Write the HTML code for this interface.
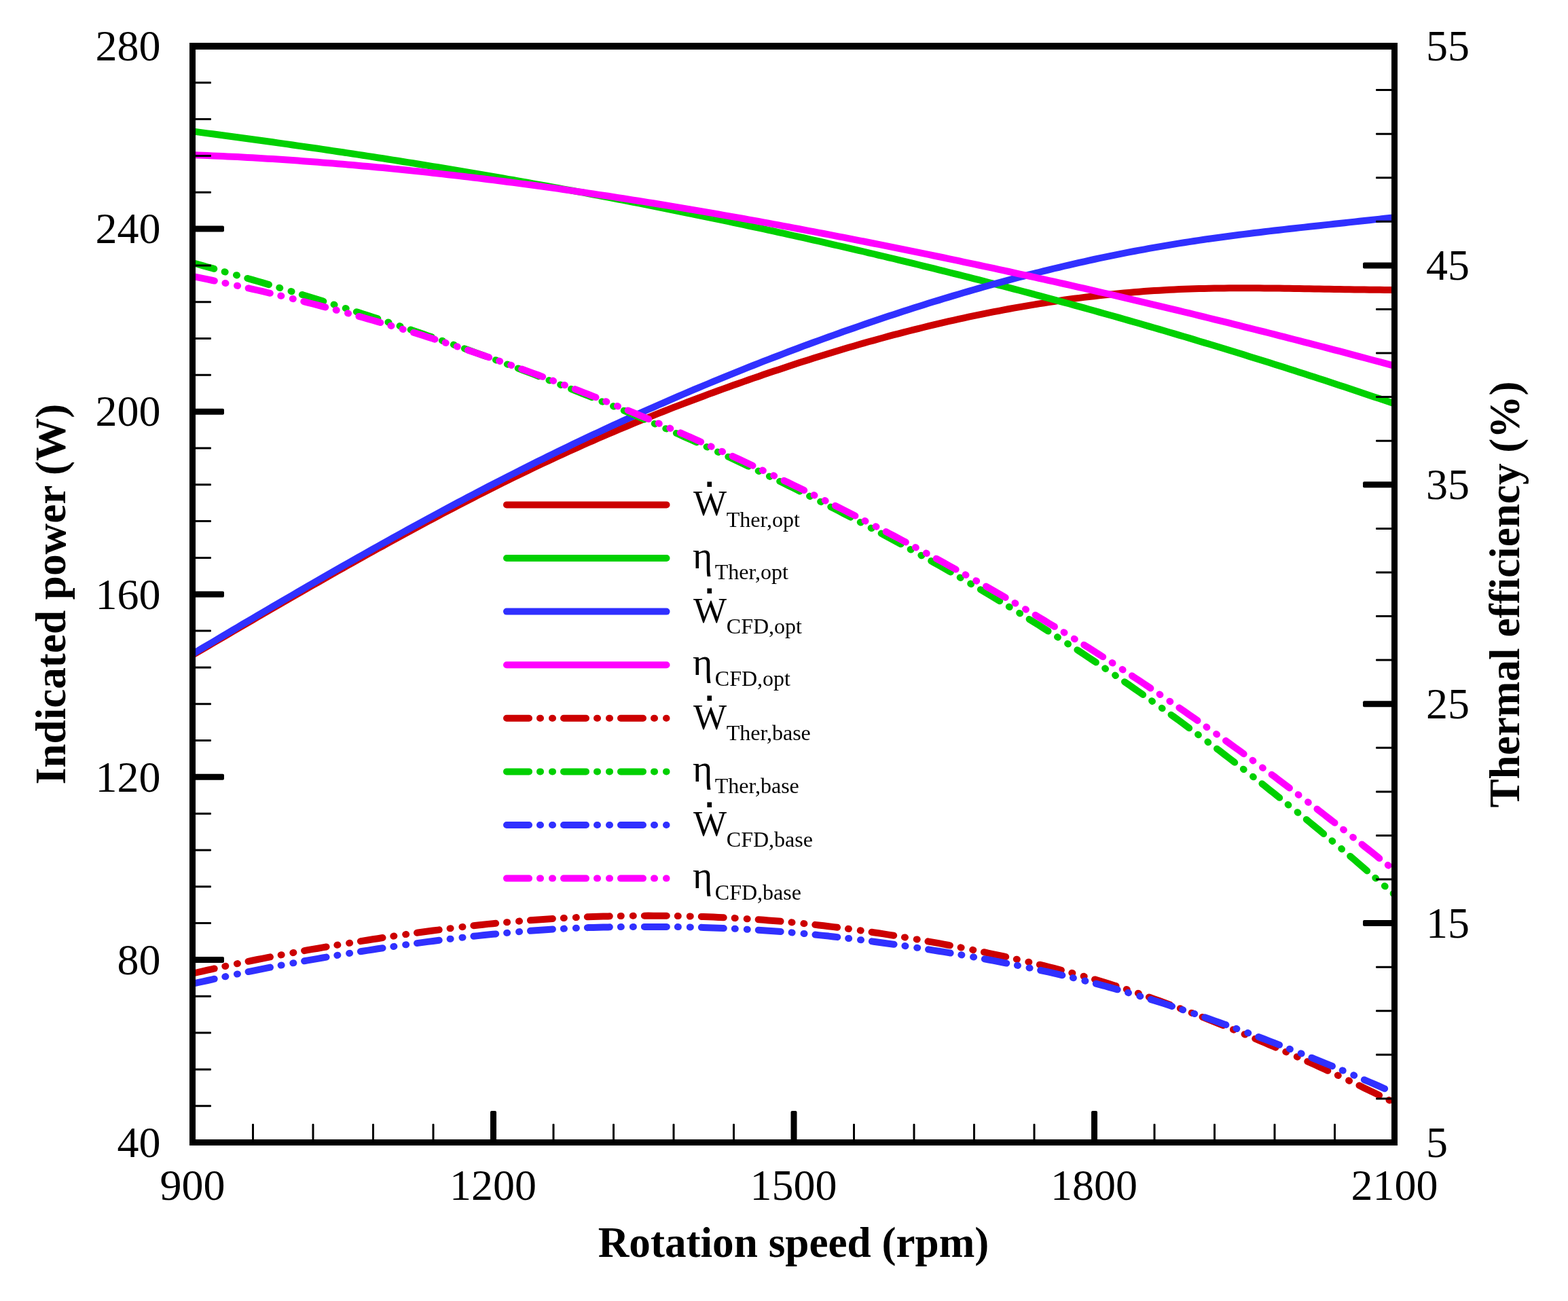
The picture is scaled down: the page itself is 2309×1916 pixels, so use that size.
<!DOCTYPE html>
<html lang="en"><head><meta charset="utf-8"><title>Indicated power and thermal efficiency vs rotation speed</title>
<style>html,body{margin:0;padding:0;background:#fff;}body{width:2309px;height:1916px;overflow:hidden;}svg{display:block;}text{font-family:"Liberation Serif","Times New Roman",serif;fill:#000;}.tk{font-size:64px;}.ti{font-size:63.2px;font-weight:bold;}.lg{font-size:52px;}.sb{font-size:32px;}.et{font-size:56px;}.dot{font-family:"Liberation Sans",Arial,sans-serif;font-size:70px;}.c{fill:none;stroke-width:10;stroke-linecap:round;stroke-linejoin:round;}.d{stroke-dasharray:33 16 1 17 1 16;}</style></head><body>
<svg xmlns="http://www.w3.org/2000/svg" width="2309" height="1916" viewBox="0 0 2309 1916">
<rect width="2309" height="1916" fill="#fff"/>
<defs><clipPath id="cp"><rect x="283.5" y="68" width="1770" height="1614.5"/></clipPath></defs>
<g clip-path="url(#cp)">
<path class="c" stroke="#CC0000" d="M283.5,964.8 L290.9,960.5 L298.2,956.2 L305.6,951.9 L313.0,947.5 L320.4,943.2 L327.8,938.9 L335.1,934.6 L342.5,930.3 L349.9,926.0 L357.2,921.7 L364.6,917.4 L372.0,913.1 L379.4,908.8 L386.8,904.5 L394.1,900.2 L401.5,896.0 L408.9,891.7 L416.2,887.4 L423.6,883.2 L431.0,878.9 L438.4,874.7 L445.8,870.4 L453.1,866.2 L460.5,862.0 L467.9,857.8 L475.2,853.6 L482.6,849.4 L490.0,845.2 L497.4,841.0 L504.8,836.9 L512.1,832.7 L519.5,828.6 L526.9,824.4 L534.2,820.3 L541.6,816.2 L549.0,812.1 L556.4,808.0 L563.8,804.0 L571.1,799.9 L578.5,795.8 L585.9,791.8 L593.2,787.8 L600.6,783.8 L608.0,779.8 L615.4,775.8 L622.8,771.9 L630.1,767.9 L637.5,764.0 L644.9,760.1 L652.2,756.2 L659.6,752.3 L667.0,748.5 L674.4,744.6 L681.8,740.8 L689.1,737.0 L696.5,733.2 L703.9,729.4 L711.2,725.7 L718.6,722.0 L726.0,718.3 L733.4,714.6 L740.8,710.9 L748.1,707.3 L755.5,703.6 L762.9,700.0 L770.2,696.4 L777.6,692.9 L785.0,689.3 L792.4,685.8 L799.8,682.3 L807.1,678.9 L814.5,675.4 L821.9,672.0 L829.2,668.6 L836.6,665.2 L844.0,661.9 L851.4,658.6 L858.8,655.3 L866.1,652.0 L873.5,648.8 L880.9,645.5 L888.2,642.4 L895.6,639.2 L903.0,636.1 L910.4,632.9 L917.8,629.9 L925.1,626.8 L932.5,623.7 L939.9,620.7 L947.2,617.7 L954.6,614.8 L962.0,611.8 L969.4,608.9 L976.8,606.0 L984.1,603.1 L991.5,600.2 L998.9,597.4 L1006.2,594.6 L1013.6,591.8 L1021.0,589.0 L1028.4,586.2 L1035.8,583.5 L1043.1,580.7 L1050.5,578.0 L1057.9,575.3 L1065.2,572.6 L1072.6,570.0 L1080.0,567.3 L1087.4,564.7 L1094.8,562.1 L1102.1,559.5 L1109.5,556.9 L1116.9,554.4 L1124.2,551.8 L1131.6,549.3 L1139.0,546.8 L1146.4,544.4 L1153.8,541.9 L1161.1,539.5 L1168.5,537.0 L1175.9,534.6 L1183.2,532.3 L1190.6,529.9 L1198.0,527.6 L1205.4,525.3 L1212.8,523.0 L1220.1,520.7 L1227.5,518.4 L1234.9,516.2 L1242.2,514.0 L1249.6,511.8 L1257.0,509.7 L1264.4,507.5 L1271.8,505.4 L1279.1,503.3 L1286.5,501.3 L1293.9,499.2 L1301.2,497.2 L1308.6,495.2 L1316.0,493.2 L1323.4,491.3 L1330.8,489.4 L1338.1,487.5 L1345.5,485.6 L1352.9,483.8 L1360.2,482.0 L1367.6,480.2 L1375.0,478.4 L1382.4,476.6 L1389.8,474.9 L1397.1,473.2 L1404.5,471.6 L1411.9,469.9 L1419.2,468.3 L1426.6,466.7 L1434.0,465.2 L1441.4,463.6 L1448.8,462.1 L1456.1,460.7 L1463.5,459.2 L1470.9,457.8 L1478.2,456.4 L1485.6,455.0 L1493.0,453.7 L1500.4,452.4 L1507.8,451.1 L1515.1,449.8 L1522.5,448.6 L1529.9,447.4 L1537.2,446.2 L1544.6,445.1 L1552.0,444.0 L1559.4,442.9 L1566.8,441.8 L1574.1,440.8 L1581.5,439.8 L1588.9,438.9 L1596.2,437.9 L1603.6,437.0 L1611.0,436.2 L1618.4,435.3 L1625.8,434.5 L1633.1,433.7 L1640.5,433.0 L1647.9,432.3 L1655.2,431.6 L1662.6,430.9 L1670.0,430.3 L1677.4,429.7 L1684.8,429.1 L1692.1,428.6 L1699.5,428.1 L1706.9,427.7 L1714.2,427.2 L1721.6,426.8 L1729.0,426.5 L1736.4,426.1 L1743.8,425.8 L1751.1,425.6 L1758.5,425.3 L1765.9,425.1 L1773.2,424.9 L1780.6,424.7 L1788.0,424.6 L1795.4,424.5 L1802.8,424.4 L1810.1,424.3 L1817.5,424.3 L1824.9,424.3 L1832.2,424.3 L1839.6,424.3 L1847.0,424.3 L1854.4,424.3 L1861.8,424.4 L1869.1,424.4 L1876.5,424.5 L1883.9,424.6 L1891.2,424.7 L1898.6,424.8 L1906.0,424.9 L1913.4,425.0 L1920.8,425.2 L1928.1,425.3 L1935.5,425.4 L1942.9,425.6 L1950.2,425.7 L1957.6,425.8 L1965.0,426.0 L1972.4,426.1 L1979.8,426.2 L1987.1,426.3 L1994.5,426.4 L2001.9,426.5 L2009.2,426.6 L2016.6,426.7 L2024.0,426.7 L2031.4,426.8 L2038.8,426.9 L2046.1,426.9 L2053.5,427.0"/>
<path class="c" stroke="#00D000" d="M283.5,193.4 L290.9,194.4 L298.2,195.4 L305.6,196.4 L313.0,197.3 L320.4,198.3 L327.8,199.3 L335.1,200.3 L342.5,201.2 L349.9,202.2 L357.2,203.2 L364.6,204.2 L372.0,205.2 L379.4,206.2 L386.8,207.3 L394.1,208.3 L401.5,209.3 L408.9,210.4 L416.2,211.4 L423.6,212.4 L431.0,213.5 L438.4,214.6 L445.8,215.6 L453.1,216.7 L460.5,217.8 L467.9,218.8 L475.2,219.9 L482.6,221.0 L490.0,222.1 L497.4,223.2 L504.8,224.3 L512.1,225.4 L519.5,226.5 L526.9,227.6 L534.2,228.8 L541.6,229.9 L549.0,231.0 L556.4,232.2 L563.8,233.3 L571.1,234.5 L578.5,235.6 L585.9,236.8 L593.2,238.0 L600.6,239.1 L608.0,240.3 L615.4,241.5 L622.8,242.7 L630.1,243.9 L637.5,245.1 L644.9,246.3 L652.2,247.5 L659.6,248.7 L667.0,249.9 L674.4,251.2 L681.8,252.4 L689.1,253.6 L696.5,254.9 L703.9,256.1 L711.2,257.4 L718.6,258.6 L726.0,259.9 L733.4,261.2 L740.8,262.5 L748.1,263.8 L755.5,265.0 L762.9,266.3 L770.2,267.6 L777.6,269.0 L785.0,270.3 L792.4,271.6 L799.8,272.9 L807.1,274.2 L814.5,275.6 L821.9,276.9 L829.2,278.3 L836.6,279.6 L844.0,281.0 L851.4,282.4 L858.8,283.7 L866.1,285.1 L873.5,286.5 L880.9,287.9 L888.2,289.3 L895.6,290.7 L903.0,292.1 L910.4,293.5 L917.8,294.9 L925.1,296.4 L932.5,297.8 L939.9,299.2 L947.2,300.7 L954.6,302.1 L962.0,303.6 L969.4,305.0 L976.8,306.5 L984.1,308.0 L991.5,309.5 L998.9,311.0 L1006.2,312.5 L1013.6,314.0 L1021.0,315.5 L1028.4,317.0 L1035.8,318.5 L1043.1,320.0 L1050.5,321.6 L1057.9,323.1 L1065.2,324.6 L1072.6,326.2 L1080.0,327.8 L1087.4,329.3 L1094.8,330.9 L1102.1,332.5 L1109.5,334.1 L1116.9,335.6 L1124.2,337.2 L1131.6,338.8 L1139.0,340.4 L1146.4,342.1 L1153.8,343.7 L1161.1,345.3 L1168.5,347.0 L1175.9,348.6 L1183.2,350.2 L1190.6,351.9 L1198.0,353.6 L1205.4,355.2 L1212.8,356.9 L1220.1,358.6 L1227.5,360.3 L1234.9,362.0 L1242.2,363.7 L1249.6,365.4 L1257.0,367.1 L1264.4,368.8 L1271.8,370.5 L1279.1,372.3 L1286.5,374.0 L1293.9,375.8 L1301.2,377.5 L1308.6,379.3 L1316.0,381.0 L1323.4,382.8 L1330.8,384.6 L1338.1,386.4 L1345.5,388.2 L1352.9,390.0 L1360.2,391.8 L1367.6,393.6 L1375.0,395.4 L1382.4,397.3 L1389.8,399.1 L1397.1,401.0 L1404.5,402.8 L1411.9,404.7 L1419.2,406.5 L1426.6,408.4 L1434.0,410.3 L1441.4,412.2 L1448.8,414.1 L1456.1,416.0 L1463.5,417.9 L1470.9,419.8 L1478.2,421.7 L1485.6,423.6 L1493.0,425.6 L1500.4,427.5 L1507.8,429.5 L1515.1,431.4 L1522.5,433.4 L1529.9,435.4 L1537.2,437.3 L1544.6,439.3 L1552.0,441.3 L1559.4,443.3 L1566.8,445.3 L1574.1,447.3 L1581.5,449.4 L1588.9,451.4 L1596.2,453.4 L1603.6,455.5 L1611.0,457.5 L1618.4,459.6 L1625.8,461.7 L1633.1,463.7 L1640.5,465.8 L1647.9,467.9 L1655.2,470.0 L1662.6,472.1 L1670.0,474.2 L1677.4,476.3 L1684.8,478.5 L1692.1,480.6 L1699.5,482.7 L1706.9,484.9 L1714.2,487.0 L1721.6,489.2 L1729.0,491.4 L1736.4,493.6 L1743.8,495.7 L1751.1,497.9 L1758.5,500.1 L1765.9,502.4 L1773.2,504.6 L1780.6,506.8 L1788.0,509.0 L1795.4,511.3 L1802.8,513.5 L1810.1,515.8 L1817.5,518.0 L1824.9,520.3 L1832.2,522.6 L1839.6,524.9 L1847.0,527.2 L1854.4,529.5 L1861.8,531.8 L1869.1,534.1 L1876.5,536.4 L1883.9,538.8 L1891.2,541.1 L1898.6,543.4 L1906.0,545.8 L1913.4,548.2 L1920.8,550.5 L1928.1,552.9 L1935.5,555.3 L1942.9,557.7 L1950.2,560.1 L1957.6,562.5 L1965.0,564.9 L1972.4,567.4 L1979.8,569.8 L1987.1,572.3 L1994.5,574.7 L2001.9,577.2 L2009.2,579.7 L2016.6,582.2 L2024.0,584.7 L2031.4,587.1 L2038.8,589.6 L2046.1,592.1 L2053.5,594.6"/>
<path class="c" stroke="#3030FF" d="M283.5,963.2 L290.9,958.8 L298.2,954.4 L305.6,950.0 L313.0,945.7 L320.4,941.3 L327.8,936.9 L335.1,932.5 L342.5,928.1 L349.9,923.8 L357.2,919.4 L364.6,915.1 L372.0,910.7 L379.4,906.4 L386.8,902.0 L394.1,897.7 L401.5,893.4 L408.9,889.1 L416.2,884.8 L423.6,880.5 L431.0,876.2 L438.4,871.9 L445.8,867.6 L453.1,863.3 L460.5,859.1 L467.9,854.8 L475.2,850.6 L482.6,846.3 L490.0,842.1 L497.4,837.9 L504.8,833.7 L512.1,829.5 L519.5,825.3 L526.9,821.1 L534.2,817.0 L541.6,812.8 L549.0,808.7 L556.4,804.5 L563.8,800.4 L571.1,796.3 L578.5,792.2 L585.9,788.1 L593.2,784.0 L600.6,780.0 L608.0,775.9 L615.4,771.9 L622.8,767.8 L630.1,763.8 L637.5,759.8 L644.9,755.8 L652.2,751.9 L659.6,747.9 L667.0,744.0 L674.4,740.0 L681.8,736.1 L689.1,732.2 L696.5,728.3 L703.9,724.5 L711.2,720.6 L718.6,716.8 L726.0,713.0 L733.4,709.2 L740.8,705.4 L748.1,701.6 L755.5,697.9 L762.9,694.1 L770.2,690.4 L777.6,686.7 L785.0,683.0 L792.4,679.3 L799.8,675.7 L807.1,672.1 L814.5,668.4 L821.9,664.8 L829.2,661.3 L836.6,657.7 L844.0,654.1 L851.4,650.6 L858.8,647.1 L866.1,643.6 L873.5,640.1 L880.9,636.7 L888.2,633.2 L895.6,629.8 L903.0,626.4 L910.4,623.0 L917.8,619.6 L925.1,616.3 L932.5,612.9 L939.9,609.6 L947.2,606.3 L954.6,603.0 L962.0,599.8 L969.4,596.5 L976.8,593.3 L984.1,590.1 L991.5,586.9 L998.9,583.7 L1006.2,580.5 L1013.6,577.4 L1021.0,574.2 L1028.4,571.1 L1035.8,568.0 L1043.1,565.0 L1050.5,561.9 L1057.9,558.9 L1065.2,555.8 L1072.6,552.8 L1080.0,549.8 L1087.4,546.8 L1094.8,543.9 L1102.1,540.9 L1109.5,538.0 L1116.9,535.1 L1124.2,532.2 L1131.6,529.4 L1139.0,526.5 L1146.4,523.7 L1153.8,520.8 L1161.1,518.0 L1168.5,515.3 L1175.9,512.5 L1183.2,509.7 L1190.6,507.0 L1198.0,504.3 L1205.4,501.6 L1212.8,498.9 L1220.1,496.2 L1227.5,493.6 L1234.9,491.0 L1242.2,488.3 L1249.6,485.8 L1257.0,483.2 L1264.4,480.6 L1271.8,478.1 L1279.1,475.5 L1286.5,473.0 L1293.9,470.5 L1301.2,468.1 L1308.6,465.6 L1316.0,463.2 L1323.4,460.7 L1330.8,458.3 L1338.1,456.0 L1345.5,453.6 L1352.9,451.3 L1360.2,448.9 L1367.6,446.6 L1375.0,444.3 L1382.4,442.1 L1389.8,439.8 L1397.1,437.6 L1404.5,435.4 L1411.9,433.2 L1419.2,431.0 L1426.6,428.9 L1434.0,426.7 L1441.4,424.6 L1448.8,422.5 L1456.1,420.5 L1463.5,418.4 L1470.9,416.4 L1478.2,414.4 L1485.6,412.4 L1493.0,410.4 L1500.4,408.5 L1507.8,406.6 L1515.1,404.7 L1522.5,402.8 L1529.9,401.0 L1537.2,399.1 L1544.6,397.3 L1552.0,395.5 L1559.4,393.8 L1566.8,392.0 L1574.1,390.3 L1581.5,388.6 L1588.9,386.9 L1596.2,385.3 L1603.6,383.6 L1611.0,382.0 L1618.4,380.4 L1625.8,378.9 L1633.1,377.3 L1640.5,375.8 L1647.9,374.3 L1655.2,372.9 L1662.6,371.4 L1670.0,370.0 L1677.4,368.6 L1684.8,367.3 L1692.1,365.9 L1699.5,364.6 L1706.9,363.3 L1714.2,362.1 L1721.6,360.8 L1729.0,359.6 L1736.4,358.4 L1743.8,357.2 L1751.1,356.1 L1758.5,355.0 L1765.9,353.9 L1773.2,352.8 L1780.6,351.7 L1788.0,350.7 L1795.4,349.7 L1802.8,348.7 L1810.1,347.7 L1817.5,346.8 L1824.9,345.8 L1832.2,344.9 L1839.6,344.0 L1847.0,343.0 L1854.4,342.2 L1861.8,341.3 L1869.1,340.4 L1876.5,339.5 L1883.9,338.7 L1891.2,337.9 L1898.6,337.0 L1906.0,336.2 L1913.4,335.4 L1920.8,334.6 L1928.1,333.8 L1935.5,333.0 L1942.9,332.2 L1950.2,331.4 L1957.6,330.6 L1965.0,329.8 L1972.4,329.0 L1979.8,328.2 L1987.1,327.4 L1994.5,326.6 L2001.9,325.8 L2009.2,325.0 L2016.6,324.2 L2024.0,323.4 L2031.4,322.6 L2038.8,321.8 L2046.1,321.0 L2053.5,320.2"/>
<path class="c" stroke="#FF00FF" d="M283.5,228.1 L290.9,228.4 L298.2,228.7 L305.6,229.0 L313.0,229.4 L320.4,229.7 L327.8,230.0 L335.1,230.4 L342.5,230.8 L349.9,231.1 L357.2,231.5 L364.6,231.9 L372.0,232.3 L379.4,232.8 L386.8,233.2 L394.1,233.7 L401.5,234.1 L408.9,234.6 L416.2,235.1 L423.6,235.6 L431.0,236.1 L438.4,236.6 L445.8,237.2 L453.1,237.7 L460.5,238.3 L467.9,238.8 L475.2,239.4 L482.6,240.0 L490.0,240.6 L497.4,241.2 L504.8,241.8 L512.1,242.4 L519.5,243.1 L526.9,243.7 L534.2,244.4 L541.6,245.1 L549.0,245.7 L556.4,246.4 L563.8,247.1 L571.1,247.8 L578.5,248.6 L585.9,249.3 L593.2,250.0 L600.6,250.8 L608.0,251.6 L615.4,252.3 L622.8,253.1 L630.1,253.9 L637.5,254.7 L644.9,255.5 L652.2,256.4 L659.6,257.2 L667.0,258.0 L674.4,258.9 L681.8,259.8 L689.1,260.6 L696.5,261.5 L703.9,262.4 L711.2,263.3 L718.6,264.2 L726.0,265.1 L733.4,266.1 L740.8,267.0 L748.1,268.0 L755.5,268.9 L762.9,269.9 L770.2,270.9 L777.6,271.8 L785.0,272.8 L792.4,273.8 L799.8,274.9 L807.1,275.9 L814.5,276.9 L821.9,277.9 L829.2,279.0 L836.6,280.1 L844.0,281.1 L851.4,282.2 L858.8,283.3 L866.1,284.4 L873.5,285.5 L880.9,286.6 L888.2,287.7 L895.6,288.8 L903.0,289.9 L910.4,291.1 L917.8,292.2 L925.1,293.4 L932.5,294.6 L939.9,295.7 L947.2,296.9 L954.6,298.1 L962.0,299.3 L969.4,300.5 L976.8,301.7 L984.1,302.9 L991.5,304.1 L998.9,305.4 L1006.2,306.6 L1013.6,307.9 L1021.0,309.1 L1028.4,310.4 L1035.8,311.6 L1043.1,312.9 L1050.5,314.2 L1057.9,315.5 L1065.2,316.8 L1072.6,318.1 L1080.0,319.4 L1087.4,320.7 L1094.8,322.0 L1102.1,323.4 L1109.5,324.7 L1116.9,326.0 L1124.2,327.4 L1131.6,328.7 L1139.0,330.1 L1146.4,331.4 L1153.8,332.8 L1161.1,334.2 L1168.5,335.6 L1175.9,337.0 L1183.2,338.4 L1190.6,339.8 L1198.0,341.2 L1205.4,342.6 L1212.8,344.0 L1220.1,345.4 L1227.5,346.8 L1234.9,348.3 L1242.2,349.7 L1249.6,351.2 L1257.0,352.6 L1264.4,354.1 L1271.8,355.5 L1279.1,357.0 L1286.5,358.5 L1293.9,359.9 L1301.2,361.4 L1308.6,362.9 L1316.0,364.4 L1323.4,365.9 L1330.8,367.4 L1338.1,368.9 L1345.5,370.4 L1352.9,371.9 L1360.2,373.4 L1367.6,374.9 L1375.0,376.5 L1382.4,378.0 L1389.8,379.5 L1397.1,381.1 L1404.5,382.6 L1411.9,384.2 L1419.2,385.8 L1426.6,387.3 L1434.0,388.9 L1441.4,390.5 L1448.8,392.1 L1456.1,393.6 L1463.5,395.2 L1470.9,396.8 L1478.2,398.4 L1485.6,400.0 L1493.0,401.6 L1500.4,403.3 L1507.8,404.9 L1515.1,406.5 L1522.5,408.1 L1529.9,409.8 L1537.2,411.4 L1544.6,413.1 L1552.0,414.7 L1559.4,416.4 L1566.8,418.0 L1574.1,419.7 L1581.5,421.4 L1588.9,423.1 L1596.2,424.7 L1603.6,426.4 L1611.0,428.1 L1618.4,429.8 L1625.8,431.5 L1633.1,433.2 L1640.5,434.9 L1647.9,436.7 L1655.2,438.4 L1662.6,440.1 L1670.0,441.8 L1677.4,443.6 L1684.8,445.3 L1692.1,447.1 L1699.5,448.8 L1706.9,450.6 L1714.2,452.4 L1721.6,454.1 L1729.0,455.9 L1736.4,457.7 L1743.8,459.5 L1751.1,461.2 L1758.5,463.0 L1765.9,464.8 L1773.2,466.6 L1780.6,468.5 L1788.0,470.3 L1795.4,472.1 L1802.8,473.9 L1810.1,475.7 L1817.5,477.6 L1824.9,479.4 L1832.2,481.3 L1839.6,483.1 L1847.0,485.0 L1854.4,486.8 L1861.8,488.7 L1869.1,490.5 L1876.5,492.4 L1883.9,494.3 L1891.2,496.2 L1898.6,498.1 L1906.0,500.0 L1913.4,501.9 L1920.8,503.8 L1928.1,505.7 L1935.5,507.6 L1942.9,509.5 L1950.2,511.4 L1957.6,513.4 L1965.0,515.3 L1972.4,517.2 L1979.8,519.2 L1987.1,521.1 L1994.5,523.1 L2001.9,525.1 L2009.2,527.0 L2016.6,529.0 L2024.0,531.0 L2031.4,532.9 L2038.8,534.9 L2046.1,536.9 L2053.5,538.9"/>
<path class="c d" stroke="#CC0000" d="M283.5,1433.7 L290.9,1432.0 L298.2,1430.4 L305.6,1428.7 L313.0,1427.1 L320.4,1425.4 L327.8,1423.8 L335.1,1422.2 L342.5,1420.6 L349.9,1419.1 L357.2,1417.5 L364.6,1416.0 L372.0,1414.5 L379.4,1413.0 L386.8,1411.6 L394.1,1410.1 L401.5,1408.7 L408.9,1407.3 L416.2,1405.9 L423.6,1404.6 L431.0,1403.2 L438.4,1401.9 L445.8,1400.6 L453.1,1399.2 L460.5,1397.9 L467.9,1396.7 L475.2,1395.4 L482.6,1394.1 L490.0,1392.9 L497.4,1391.6 L504.8,1390.4 L512.1,1389.2 L519.5,1388.0 L526.9,1386.8 L534.2,1385.6 L541.6,1384.5 L549.0,1383.3 L556.4,1382.2 L563.8,1381.0 L571.1,1379.9 L578.5,1378.8 L585.9,1377.7 L593.2,1376.7 L600.6,1375.6 L608.0,1374.6 L615.4,1373.5 L622.8,1372.5 L630.1,1371.5 L637.5,1370.5 L644.9,1369.6 L652.2,1368.6 L659.6,1367.7 L667.0,1366.8 L674.4,1365.9 L681.8,1365.0 L689.1,1364.1 L696.5,1363.3 L703.9,1362.5 L711.2,1361.7 L718.6,1360.9 L726.0,1360.2 L733.4,1359.5 L740.8,1358.7 L748.1,1358.1 L755.5,1357.4 L762.9,1356.8 L770.2,1356.1 L777.6,1355.6 L785.0,1355.0 L792.4,1354.4 L799.8,1353.9 L807.1,1353.4 L814.5,1352.9 L821.9,1352.5 L829.2,1352.1 L836.6,1351.7 L844.0,1351.3 L851.4,1351.0 L858.8,1350.6 L866.1,1350.3 L873.5,1350.1 L880.9,1349.8 L888.2,1349.6 L895.6,1349.4 L903.0,1349.2 L910.4,1349.1 L917.8,1348.9 L925.1,1348.8 L932.5,1348.7 L939.9,1348.7 L947.2,1348.7 L954.6,1348.6 L962.0,1348.7 L969.4,1348.7 L976.8,1348.7 L984.1,1348.8 L991.5,1348.9 L998.9,1349.1 L1006.2,1349.2 L1013.6,1349.4 L1021.0,1349.6 L1028.4,1349.8 L1035.8,1350.0 L1043.1,1350.3 L1050.5,1350.6 L1057.9,1350.9 L1065.2,1351.3 L1072.6,1351.6 L1080.0,1352.0 L1087.4,1352.4 L1094.8,1352.9 L1102.1,1353.3 L1109.5,1353.8 L1116.9,1354.3 L1124.2,1354.8 L1131.6,1355.4 L1139.0,1356.0 L1146.4,1356.6 L1153.8,1357.2 L1161.1,1357.9 L1168.5,1358.6 L1175.9,1359.3 L1183.2,1360.1 L1190.6,1360.8 L1198.0,1361.6 L1205.4,1362.5 L1212.8,1363.3 L1220.1,1364.2 L1227.5,1365.1 L1234.9,1366.0 L1242.2,1367.0 L1249.6,1367.9 L1257.0,1368.9 L1264.4,1370.0 L1271.8,1371.0 L1279.1,1372.1 L1286.5,1373.2 L1293.9,1374.3 L1301.2,1375.4 L1308.6,1376.6 L1316.0,1377.7 L1323.4,1378.9 L1330.8,1380.2 L1338.1,1381.4 L1345.5,1382.7 L1352.9,1383.9 L1360.2,1385.2 L1367.6,1386.6 L1375.0,1387.9 L1382.4,1389.2 L1389.8,1390.6 L1397.1,1392.0 L1404.5,1393.4 L1411.9,1394.8 L1419.2,1396.3 L1426.6,1397.7 L1434.0,1399.2 L1441.4,1400.7 L1448.8,1402.2 L1456.1,1403.8 L1463.5,1405.3 L1470.9,1406.9 L1478.2,1408.5 L1485.6,1410.1 L1493.0,1411.8 L1500.4,1413.5 L1507.8,1415.1 L1515.1,1416.9 L1522.5,1418.6 L1529.9,1420.4 L1537.2,1422.2 L1544.6,1424.0 L1552.0,1425.9 L1559.4,1427.8 L1566.8,1429.8 L1574.1,1431.7 L1581.5,1433.7 L1588.9,1435.8 L1596.2,1437.8 L1603.6,1440.0 L1611.0,1442.1 L1618.4,1444.3 L1625.8,1446.6 L1633.1,1448.8 L1640.5,1451.2 L1647.9,1453.5 L1655.2,1455.9 L1662.6,1458.3 L1670.0,1460.8 L1677.4,1463.3 L1684.8,1465.9 L1692.1,1468.5 L1699.5,1471.1 L1706.9,1473.7 L1714.2,1476.4 L1721.6,1479.1 L1729.0,1481.9 L1736.4,1484.6 L1743.8,1487.5 L1751.1,1490.3 L1758.5,1493.1 L1765.9,1496.0 L1773.2,1498.9 L1780.6,1501.9 L1788.0,1504.8 L1795.4,1507.8 L1802.8,1510.8 L1810.1,1513.8 L1817.5,1516.9 L1824.9,1519.9 L1832.2,1523.0 L1839.6,1526.1 L1847.0,1529.2 L1854.4,1532.3 L1861.8,1535.4 L1869.1,1538.6 L1876.5,1541.7 L1883.9,1544.9 L1891.2,1548.1 L1898.6,1551.4 L1906.0,1554.6 L1913.4,1557.9 L1920.8,1561.2 L1928.1,1564.5 L1935.5,1567.8 L1942.9,1571.2 L1950.2,1574.5 L1957.6,1577.9 L1965.0,1581.4 L1972.4,1584.8 L1979.8,1588.3 L1987.1,1591.8 L1994.5,1595.3 L2001.9,1598.8 L2009.2,1602.4 L2016.6,1606.0 L2024.0,1609.6 L2031.4,1613.2 L2038.8,1616.8 L2046.1,1620.4 L2053.5,1624.0"/>
<path class="c d" stroke="#00D000" d="M283.5,387.0 L290.9,389.0 L298.2,391.1 L305.6,393.2 L313.0,395.2 L320.4,397.3 L327.8,399.4 L335.1,401.5 L342.5,403.6 L349.9,405.7 L357.2,407.8 L364.6,410.0 L372.0,412.1 L379.4,414.3 L386.8,416.4 L394.1,418.6 L401.5,420.8 L408.9,423.0 L416.2,425.2 L423.6,427.5 L431.0,429.7 L438.4,431.9 L445.8,434.2 L453.1,436.5 L460.5,438.8 L467.9,441.0 L475.2,443.3 L482.6,445.7 L490.0,448.0 L497.4,450.3 L504.8,452.7 L512.1,455.0 L519.5,457.4 L526.9,459.8 L534.2,462.2 L541.6,464.6 L549.0,467.0 L556.4,469.4 L563.8,471.8 L571.1,474.3 L578.5,476.8 L585.9,479.2 L593.2,481.7 L600.6,484.2 L608.0,486.7 L615.4,489.3 L622.8,491.8 L630.1,494.4 L637.5,496.9 L644.9,499.5 L652.2,502.1 L659.6,504.7 L667.0,507.3 L674.4,509.9 L681.8,512.6 L689.1,515.2 L696.5,517.9 L703.9,520.6 L711.2,523.3 L718.6,526.0 L726.0,528.7 L733.4,531.4 L740.8,534.2 L748.1,536.9 L755.5,539.7 L762.9,542.5 L770.2,545.3 L777.6,548.1 L785.0,550.9 L792.4,553.8 L799.8,556.6 L807.1,559.5 L814.5,562.4 L821.9,565.3 L829.2,568.2 L836.6,571.1 L844.0,574.1 L851.4,577.0 L858.8,580.0 L866.1,583.0 L873.5,586.0 L880.9,589.0 L888.2,592.0 L895.6,595.1 L903.0,598.1 L910.4,601.2 L917.8,604.3 L925.1,607.4 L932.5,610.5 L939.9,613.7 L947.2,616.8 L954.6,620.0 L962.0,623.2 L969.4,626.4 L976.8,629.6 L984.1,632.8 L991.5,636.0 L998.9,639.3 L1006.2,642.6 L1013.6,645.9 L1021.0,649.2 L1028.4,652.5 L1035.8,655.9 L1043.1,659.2 L1050.5,662.6 L1057.9,666.0 L1065.2,669.4 L1072.6,672.8 L1080.0,676.2 L1087.4,679.7 L1094.8,683.2 L1102.1,686.7 L1109.5,690.2 L1116.9,693.7 L1124.2,697.2 L1131.6,700.8 L1139.0,704.4 L1146.4,708.0 L1153.8,711.6 L1161.1,715.2 L1168.5,718.8 L1175.9,722.5 L1183.2,726.2 L1190.6,729.9 L1198.0,733.6 L1205.4,737.3 L1212.8,741.1 L1220.1,744.8 L1227.5,748.6 L1234.9,752.4 L1242.2,756.2 L1249.6,760.1 L1257.0,763.9 L1264.4,767.8 L1271.8,771.7 L1279.1,775.6 L1286.5,779.6 L1293.9,783.5 L1301.2,787.5 L1308.6,791.5 L1316.0,795.5 L1323.4,799.5 L1330.8,803.6 L1338.1,807.6 L1345.5,811.7 L1352.9,815.8 L1360.2,820.0 L1367.6,824.1 L1375.0,828.3 L1382.4,832.5 L1389.8,836.7 L1397.1,840.9 L1404.5,845.2 L1411.9,849.4 L1419.2,853.7 L1426.6,858.1 L1434.0,862.4 L1441.4,866.8 L1448.8,871.1 L1456.1,875.5 L1463.5,880.0 L1470.9,884.4 L1478.2,888.9 L1485.6,893.4 L1493.0,897.9 L1500.4,902.4 L1507.8,907.0 L1515.1,911.6 L1522.5,916.2 L1529.9,920.8 L1537.2,925.5 L1544.6,930.2 L1552.0,934.9 L1559.4,939.6 L1566.8,944.4 L1574.1,949.2 L1581.5,954.0 L1588.9,958.8 L1596.2,963.7 L1603.6,968.6 L1611.0,973.5 L1618.4,978.4 L1625.8,983.4 L1633.1,988.4 L1640.5,993.4 L1647.9,998.5 L1655.2,1003.6 L1662.6,1008.7 L1670.0,1013.8 L1677.4,1019.0 L1684.8,1024.2 L1692.1,1029.4 L1699.5,1034.7 L1706.9,1039.9 L1714.2,1045.2 L1721.6,1050.6 L1729.0,1055.9 L1736.4,1061.3 L1743.8,1066.7 L1751.1,1072.2 L1758.5,1077.6 L1765.9,1083.1 L1773.2,1088.6 L1780.6,1094.2 L1788.0,1099.8 L1795.4,1105.3 L1802.8,1111.0 L1810.1,1116.6 L1817.5,1122.3 L1824.9,1128.0 L1832.2,1133.7 L1839.6,1139.5 L1847.0,1145.3 L1854.4,1151.1 L1861.8,1156.9 L1869.1,1162.8 L1876.5,1168.7 L1883.9,1174.6 L1891.2,1180.5 L1898.6,1186.5 L1906.0,1192.5 L1913.4,1198.5 L1920.8,1204.5 L1928.1,1210.5 L1935.5,1216.6 L1942.9,1222.7 L1950.2,1228.9 L1957.6,1235.0 L1965.0,1241.2 L1972.4,1247.5 L1979.8,1253.7 L1987.1,1260.0 L1994.5,1266.3 L2001.9,1272.7 L2009.2,1279.0 L2016.6,1285.4 L2024.0,1291.8 L2031.4,1298.2 L2038.8,1304.6 L2046.1,1311.0 L2053.5,1317.5"/>
<path class="c d" stroke="#3030FF" d="M283.5,1448.9 L290.9,1447.2 L298.2,1445.6 L305.6,1444.0 L313.0,1442.3 L320.4,1440.7 L327.8,1439.1 L335.1,1437.5 L342.5,1435.9 L349.9,1434.4 L357.2,1432.8 L364.6,1431.3 L372.0,1429.8 L379.4,1428.3 L386.8,1426.8 L394.1,1425.4 L401.5,1423.9 L408.9,1422.5 L416.2,1421.1 L423.6,1419.8 L431.0,1418.4 L438.4,1417.0 L445.8,1415.7 L453.1,1414.4 L460.5,1413.1 L467.9,1411.8 L475.2,1410.5 L482.6,1409.2 L490.0,1408.0 L497.4,1406.7 L504.8,1405.5 L512.1,1404.3 L519.5,1403.1 L526.9,1401.9 L534.2,1400.8 L541.6,1399.6 L549.0,1398.5 L556.4,1397.3 L563.8,1396.2 L571.1,1395.1 L578.5,1394.1 L585.9,1393.0 L593.2,1391.9 L600.6,1390.9 L608.0,1389.9 L615.4,1388.9 L622.8,1387.9 L630.1,1386.9 L637.5,1386.0 L644.9,1385.0 L652.2,1384.1 L659.6,1383.2 L667.0,1382.3 L674.4,1381.4 L681.8,1380.6 L689.1,1379.7 L696.5,1378.9 L703.9,1378.1 L711.2,1377.3 L718.6,1376.6 L726.0,1375.8 L733.4,1375.1 L740.8,1374.4 L748.1,1373.7 L755.5,1373.0 L762.9,1372.3 L770.2,1371.7 L777.6,1371.1 L785.0,1370.5 L792.4,1370.0 L799.8,1369.4 L807.1,1368.9 L814.5,1368.5 L821.9,1368.1 L829.2,1367.7 L836.6,1367.3 L844.0,1367.0 L851.4,1366.6 L858.8,1366.4 L866.1,1366.1 L873.5,1365.9 L880.9,1365.7 L888.2,1365.5 L895.6,1365.4 L903.0,1365.2 L910.4,1365.1 L917.8,1365.0 L925.1,1365.0 L932.5,1364.9 L939.9,1364.9 L947.2,1364.9 L954.6,1364.9 L962.0,1364.9 L969.4,1364.9 L976.8,1364.9 L984.1,1365.0 L991.5,1365.0 L998.9,1365.1 L1006.2,1365.3 L1013.6,1365.4 L1021.0,1365.5 L1028.4,1365.7 L1035.8,1365.9 L1043.1,1366.2 L1050.5,1366.4 L1057.9,1366.7 L1065.2,1367.0 L1072.6,1367.3 L1080.0,1367.6 L1087.4,1368.0 L1094.8,1368.4 L1102.1,1368.8 L1109.5,1369.3 L1116.9,1369.7 L1124.2,1370.2 L1131.6,1370.7 L1139.0,1371.2 L1146.4,1371.8 L1153.8,1372.4 L1161.1,1373.0 L1168.5,1373.6 L1175.9,1374.2 L1183.2,1374.9 L1190.6,1375.6 L1198.0,1376.3 L1205.4,1377.1 L1212.8,1377.9 L1220.1,1378.6 L1227.5,1379.5 L1234.9,1380.3 L1242.2,1381.1 L1249.6,1382.0 L1257.0,1382.9 L1264.4,1383.8 L1271.8,1384.8 L1279.1,1385.7 L1286.5,1386.7 L1293.9,1387.7 L1301.2,1388.7 L1308.6,1389.7 L1316.0,1390.7 L1323.4,1391.8 L1330.8,1392.8 L1338.1,1393.9 L1345.5,1395.0 L1352.9,1396.1 L1360.2,1397.2 L1367.6,1398.4 L1375.0,1399.6 L1382.4,1400.7 L1389.8,1401.9 L1397.1,1403.1 L1404.5,1404.4 L1411.9,1405.6 L1419.2,1406.9 L1426.6,1408.2 L1434.0,1409.5 L1441.4,1410.8 L1448.8,1412.2 L1456.1,1413.5 L1463.5,1414.9 L1470.9,1416.3 L1478.2,1417.8 L1485.6,1419.2 L1493.0,1420.7 L1500.4,1422.2 L1507.8,1423.7 L1515.1,1425.3 L1522.5,1426.9 L1529.9,1428.5 L1537.2,1430.1 L1544.6,1431.7 L1552.0,1433.4 L1559.4,1435.1 L1566.8,1436.9 L1574.1,1438.6 L1581.5,1440.4 L1588.9,1442.2 L1596.2,1444.1 L1603.6,1446.0 L1611.0,1447.9 L1618.4,1449.9 L1625.8,1451.8 L1633.1,1453.9 L1640.5,1455.9 L1647.9,1458.0 L1655.2,1460.1 L1662.6,1462.3 L1670.0,1464.4 L1677.4,1466.6 L1684.8,1468.9 L1692.1,1471.1 L1699.5,1473.4 L1706.9,1475.8 L1714.2,1478.1 L1721.6,1480.5 L1729.0,1482.9 L1736.4,1485.4 L1743.8,1487.8 L1751.1,1490.3 L1758.5,1492.8 L1765.9,1495.4 L1773.2,1497.9 L1780.6,1500.5 L1788.0,1503.1 L1795.4,1505.7 L1802.8,1508.4 L1810.1,1511.0 L1817.5,1513.7 L1824.9,1516.4 L1832.2,1519.2 L1839.6,1521.9 L1847.0,1524.7 L1854.4,1527.5 L1861.8,1530.3 L1869.1,1533.1 L1876.5,1535.9 L1883.9,1538.8 L1891.2,1541.7 L1898.6,1544.6 L1906.0,1547.5 L1913.4,1550.4 L1920.8,1553.3 L1928.1,1556.3 L1935.5,1559.3 L1942.9,1562.3 L1950.2,1565.3 L1957.6,1568.3 L1965.0,1571.4 L1972.4,1574.5 L1979.8,1577.6 L1987.1,1580.7 L1994.5,1583.9 L2001.9,1587.1 L2009.2,1590.3 L2016.6,1593.5 L2024.0,1596.7 L2031.4,1599.9 L2038.8,1603.2 L2046.1,1606.4 L2053.5,1609.6"/>
<path class="c d" stroke="#FF00FF" d="M283.5,406.9 L290.9,408.4 L298.2,409.9 L305.6,411.4 L313.0,413.0 L320.4,414.5 L327.8,416.1 L335.1,417.7 L342.5,419.3 L349.9,420.9 L357.2,422.5 L364.6,424.2 L372.0,425.8 L379.4,427.5 L386.8,429.2 L394.1,431.0 L401.5,432.7 L408.9,434.5 L416.2,436.3 L423.6,438.1 L431.0,440.0 L438.4,441.8 L445.8,443.7 L453.1,445.6 L460.5,447.5 L467.9,449.4 L475.2,451.4 L482.6,453.3 L490.0,455.3 L497.4,457.3 L504.8,459.3 L512.1,461.3 L519.5,463.4 L526.9,465.5 L534.2,467.5 L541.6,469.7 L549.0,471.8 L556.4,473.9 L563.8,476.1 L571.1,478.3 L578.5,480.5 L585.9,482.7 L593.2,484.9 L600.6,487.2 L608.0,489.5 L615.4,491.7 L622.8,494.1 L630.1,496.4 L637.5,498.7 L644.9,501.1 L652.2,503.5 L659.6,505.9 L667.0,508.3 L674.4,510.8 L681.8,513.2 L689.1,515.7 L696.5,518.2 L703.9,520.7 L711.2,523.2 L718.6,525.8 L726.0,528.4 L733.4,531.0 L740.8,533.6 L748.1,536.2 L755.5,538.8 L762.9,541.5 L770.2,544.2 L777.6,546.9 L785.0,549.6 L792.4,552.3 L799.8,555.1 L807.1,557.9 L814.5,560.7 L821.9,563.5 L829.2,566.3 L836.6,569.1 L844.0,572.0 L851.4,574.9 L858.8,577.8 L866.1,580.7 L873.5,583.6 L880.9,586.6 L888.2,589.5 L895.6,592.5 L903.0,595.5 L910.4,598.5 L917.8,601.6 L925.1,604.6 L932.5,607.7 L939.9,610.8 L947.2,613.9 L954.6,617.0 L962.0,620.1 L969.4,623.3 L976.8,626.4 L984.1,629.6 L991.5,632.8 L998.9,636.0 L1006.2,639.3 L1013.6,642.5 L1021.0,645.8 L1028.4,649.1 L1035.8,652.4 L1043.1,655.7 L1050.5,659.0 L1057.9,662.4 L1065.2,665.7 L1072.6,669.1 L1080.0,672.5 L1087.4,675.9 L1094.8,679.3 L1102.1,682.8 L1109.5,686.2 L1116.9,689.7 L1124.2,693.2 L1131.6,696.7 L1139.0,700.2 L1146.4,703.7 L1153.8,707.3 L1161.1,710.8 L1168.5,714.4 L1175.9,718.0 L1183.2,721.6 L1190.6,725.2 L1198.0,728.8 L1205.4,732.5 L1212.8,736.1 L1220.1,739.8 L1227.5,743.5 L1234.9,747.2 L1242.2,750.9 L1249.6,754.7 L1257.0,758.4 L1264.4,762.2 L1271.8,766.0 L1279.1,769.8 L1286.5,773.6 L1293.9,777.4 L1301.2,781.3 L1308.6,785.1 L1316.0,789.0 L1323.4,792.9 L1330.8,796.8 L1338.1,800.7 L1345.5,804.7 L1352.9,808.6 L1360.2,812.6 L1367.6,816.6 L1375.0,820.6 L1382.4,824.7 L1389.8,828.7 L1397.1,832.8 L1404.5,836.8 L1411.9,840.9 L1419.2,845.0 L1426.6,849.2 L1434.0,853.3 L1441.4,857.5 L1448.8,861.7 L1456.1,865.9 L1463.5,870.1 L1470.9,874.3 L1478.2,878.6 L1485.6,882.9 L1493.0,887.2 L1500.4,891.5 L1507.8,895.8 L1515.1,900.2 L1522.5,904.6 L1529.9,909.0 L1537.2,913.4 L1544.6,917.9 L1552.0,922.3 L1559.4,926.8 L1566.8,931.3 L1574.1,935.9 L1581.5,940.5 L1588.9,945.0 L1596.2,949.7 L1603.6,954.3 L1611.0,959.0 L1618.4,963.7 L1625.8,968.4 L1633.1,973.1 L1640.5,977.9 L1647.9,982.7 L1655.2,987.5 L1662.6,992.4 L1670.0,997.3 L1677.4,1002.2 L1684.8,1007.1 L1692.1,1012.0 L1699.5,1017.0 L1706.9,1022.0 L1714.2,1027.1 L1721.6,1032.1 L1729.0,1037.2 L1736.4,1042.3 L1743.8,1047.4 L1751.1,1052.6 L1758.5,1057.7 L1765.9,1062.9 L1773.2,1068.2 L1780.6,1073.4 L1788.0,1078.7 L1795.4,1084.0 L1802.8,1089.3 L1810.1,1094.6 L1817.5,1100.0 L1824.9,1105.3 L1832.2,1110.7 L1839.6,1116.2 L1847.0,1121.6 L1854.4,1127.1 L1861.8,1132.6 L1869.1,1138.1 L1876.5,1143.6 L1883.9,1149.2 L1891.2,1154.7 L1898.6,1160.3 L1906.0,1165.9 L1913.4,1171.5 L1920.8,1177.2 L1928.1,1182.8 L1935.5,1188.5 L1942.9,1194.2 L1950.2,1199.9 L1957.6,1205.7 L1965.0,1211.4 L1972.4,1217.2 L1979.8,1223.0 L1987.1,1228.9 L1994.5,1234.7 L2001.9,1240.6 L2009.2,1246.5 L2016.6,1252.3 L2024.0,1258.2 L2031.4,1264.2 L2038.8,1270.1 L2046.1,1276.0 L2053.5,1281.9"/>
</g>
<path class="c" stroke="#CC0000" d="M746,743.4 L981.5,743.4"/>
<path class="c" stroke="#00D000" d="M746,822 L981.5,822"/>
<path class="c" stroke="#3030FF" d="M746,900.6 L981.5,900.6"/>
<path class="c" stroke="#FF00FF" d="M746,979.2 L981.5,979.2"/>
<path class="c d" stroke="#CC0000" d="M746,1057.8 L981.5,1057.8"/>
<path class="c d" stroke="#00D000" d="M746,1136.4 L981.5,1136.4"/>
<path class="c d" stroke="#3030FF" d="M746,1215 L981.5,1215"/>
<path class="c d" stroke="#FF00FF" d="M746,1293.6 L981.5,1293.6"/>
<text class="lg" x="1020.9" y="759.4">W</text>
<text class="dot" x="1044.7" y="717.2" text-anchor="middle">.</text>
<text class="sb" x="1069.8" y="775.5">Ther,opt</text>
<text class="et" x="1020.0" y="836.8">η</text>
<text class="sb" x="1052.8" y="853.1">Ther,opt</text>
<text class="lg" x="1020.9" y="916.6">W</text>
<text class="dot" x="1044.7" y="874.4" text-anchor="middle">.</text>
<text class="sb" x="1069.8" y="932.7">CFD,opt</text>
<text class="et" x="1020.0" y="994.0">η</text>
<text class="sb" x="1052.8" y="1010.3">CFD,opt</text>
<text class="lg" x="1020.9" y="1073.8">W</text>
<text class="dot" x="1044.7" y="1031.6" text-anchor="middle">.</text>
<text class="sb" x="1069.8" y="1089.9">Ther,base</text>
<text class="et" x="1020.0" y="1151.2">η</text>
<text class="sb" x="1052.8" y="1167.5">Ther,base</text>
<text class="lg" x="1020.9" y="1231.0">W</text>
<text class="dot" x="1044.7" y="1188.8" text-anchor="middle">.</text>
<text class="sb" x="1069.8" y="1247.1">CFD,base</text>
<text class="et" x="1020.0" y="1308.4">η</text>
<text class="sb" x="1052.8" y="1324.7">CFD,base</text>
<g fill="#000">
<rect x="279" y="63" width="1779" height="10"/>
<rect x="279" y="1678" width="1779" height="9"/>
<rect x="279" y="63" width="9" height="1624"/>
<rect x="2049" y="63" width="9" height="1624"/>
<rect x="283.5" y="1627.2" width="27.5" height="3" rx="1"/>
<rect x="283.5" y="1573.4" width="27.5" height="3" rx="1"/>
<rect x="283.5" y="1519.5" width="27.5" height="3" rx="1"/>
<rect x="283.5" y="1465.7" width="27.5" height="3" rx="1"/>
<rect x="283.5" y="1408.9" width="46.5" height="9" rx="2"/>
<rect x="283.5" y="1358.1" width="27.5" height="3" rx="1"/>
<rect x="283.5" y="1304.3" width="27.5" height="3" rx="1"/>
<rect x="283.5" y="1250.5" width="27.5" height="3" rx="1"/>
<rect x="283.5" y="1196.7" width="27.5" height="3" rx="1"/>
<rect x="283.5" y="1139.8" width="46.5" height="9" rx="2"/>
<rect x="283.5" y="1089.0" width="27.5" height="3" rx="1"/>
<rect x="283.5" y="1035.2" width="27.5" height="3" rx="1"/>
<rect x="283.5" y="981.4" width="27.5" height="3" rx="1"/>
<rect x="283.5" y="927.6" width="27.5" height="3" rx="1"/>
<rect x="283.5" y="870.8" width="46.5" height="9" rx="2"/>
<rect x="283.5" y="819.9" width="27.5" height="3" rx="1"/>
<rect x="283.5" y="766.1" width="27.5" height="3" rx="1"/>
<rect x="283.5" y="712.3" width="27.5" height="3" rx="1"/>
<rect x="283.5" y="658.5" width="27.5" height="3" rx="1"/>
<rect x="283.5" y="601.7" width="46.5" height="9" rx="2"/>
<rect x="283.5" y="550.8" width="27.5" height="3" rx="1"/>
<rect x="283.5" y="497.0" width="27.5" height="3" rx="1"/>
<rect x="283.5" y="443.2" width="27.5" height="3" rx="1"/>
<rect x="283.5" y="389.4" width="27.5" height="3" rx="1"/>
<rect x="283.5" y="332.6" width="46.5" height="9" rx="2"/>
<rect x="283.5" y="281.8" width="27.5" height="3" rx="1"/>
<rect x="283.5" y="228.0" width="27.5" height="3" rx="1"/>
<rect x="283.5" y="174.1" width="27.5" height="3" rx="1"/>
<rect x="283.5" y="120.3" width="27.5" height="3" rx="1"/>
<rect x="2026" y="1616.4" width="27.5" height="3" rx="1"/>
<rect x="2026" y="1551.8" width="27.5" height="3" rx="1"/>
<rect x="2026" y="1487.3" width="27.5" height="3" rx="1"/>
<rect x="2026" y="1422.7" width="27.5" height="3" rx="1"/>
<rect x="2007" y="1355.1" width="46.5" height="9" rx="2"/>
<rect x="2026" y="1293.5" width="27.5" height="3" rx="1"/>
<rect x="2026" y="1228.9" width="27.5" height="3" rx="1"/>
<rect x="2026" y="1164.4" width="27.5" height="3" rx="1"/>
<rect x="2026" y="1099.8" width="27.5" height="3" rx="1"/>
<rect x="2007" y="1032.2" width="46.5" height="9" rx="2"/>
<rect x="2026" y="970.6" width="27.5" height="3" rx="1"/>
<rect x="2026" y="906.0" width="27.5" height="3" rx="1"/>
<rect x="2026" y="841.5" width="27.5" height="3" rx="1"/>
<rect x="2026" y="776.9" width="27.5" height="3" rx="1"/>
<rect x="2007" y="709.3" width="46.5" height="9" rx="2"/>
<rect x="2026" y="647.7" width="27.5" height="3" rx="1"/>
<rect x="2026" y="583.1" width="27.5" height="3" rx="1"/>
<rect x="2026" y="518.6" width="27.5" height="3" rx="1"/>
<rect x="2026" y="454.0" width="27.5" height="3" rx="1"/>
<rect x="2007" y="386.4" width="46.5" height="9" rx="2"/>
<rect x="2026" y="324.8" width="27.5" height="3" rx="1"/>
<rect x="2026" y="260.2" width="27.5" height="3" rx="1"/>
<rect x="2026" y="195.7" width="27.5" height="3" rx="1"/>
<rect x="2026" y="131.1" width="27.5" height="3" rx="1"/>
<rect x="371.0" y="1655" width="3" height="27.5" rx="1"/>
<rect x="459.5" y="1655" width="3" height="27.5" rx="1"/>
<rect x="548.0" y="1655" width="3" height="27.5" rx="1"/>
<rect x="636.5" y="1655" width="3" height="27.5" rx="1"/>
<rect x="722.0" y="1636" width="9" height="46.5" rx="2"/>
<rect x="813.5" y="1655" width="3" height="27.5" rx="1"/>
<rect x="902.0" y="1655" width="3" height="27.5" rx="1"/>
<rect x="990.5" y="1655" width="3" height="27.5" rx="1"/>
<rect x="1079.0" y="1655" width="3" height="27.5" rx="1"/>
<rect x="1164.5" y="1636" width="9" height="46.5" rx="2"/>
<rect x="1256.0" y="1655" width="3" height="27.5" rx="1"/>
<rect x="1344.5" y="1655" width="3" height="27.5" rx="1"/>
<rect x="1433.0" y="1655" width="3" height="27.5" rx="1"/>
<rect x="1521.5" y="1655" width="3" height="27.5" rx="1"/>
<rect x="1607.0" y="1636" width="9" height="46.5" rx="2"/>
<rect x="1698.5" y="1655" width="3" height="27.5" rx="1"/>
<rect x="1787.0" y="1655" width="3" height="27.5" rx="1"/>
<rect x="1875.5" y="1655" width="3" height="27.5" rx="1"/>
<rect x="1964.0" y="1655" width="3" height="27.5" rx="1"/>
</g>
<text class="tk" x="236.5" y="1703.7" text-anchor="end">40</text>
<text class="tk" x="236.5" y="1434.6" text-anchor="end">80</text>
<text class="tk" x="236.5" y="1165.5" text-anchor="end">120</text>
<text class="tk" x="236.5" y="896.5" text-anchor="end">160</text>
<text class="tk" x="236.5" y="627.4" text-anchor="end">200</text>
<text class="tk" x="236.5" y="358.3" text-anchor="end">240</text>
<text class="tk" x="236.5" y="89.2" text-anchor="end">280</text>
<text class="tk" x="2100" y="1703.7">5</text>
<text class="tk" x="2100" y="1380.8">15</text>
<text class="tk" x="2100" y="1057.9">25</text>
<text class="tk" x="2100" y="735.0">35</text>
<text class="tk" x="2100" y="412.1">45</text>
<text class="tk" x="2100" y="89.2">55</text>
<text class="tk" x="283.5" y="1766.5" text-anchor="middle">900</text>
<text class="tk" x="726.0" y="1766.5" text-anchor="middle">1200</text>
<text class="tk" x="1168.5" y="1766.5" text-anchor="middle">1500</text>
<text class="tk" x="1611.0" y="1766.5" text-anchor="middle">1800</text>
<text class="tk" x="2053.5" y="1766.5" text-anchor="middle">2100</text>
<text class="ti" x="1168.5" y="1851" text-anchor="middle">Rotation speed (rpm)</text>
<text class="ti" transform="translate(96.1,875) rotate(-90)" text-anchor="middle">Indicated power (W)</text>
<text class="ti" transform="translate(2236.8,875.5) rotate(-90)" text-anchor="middle">Thermal efficiency (%)</text>
</svg></body></html>
